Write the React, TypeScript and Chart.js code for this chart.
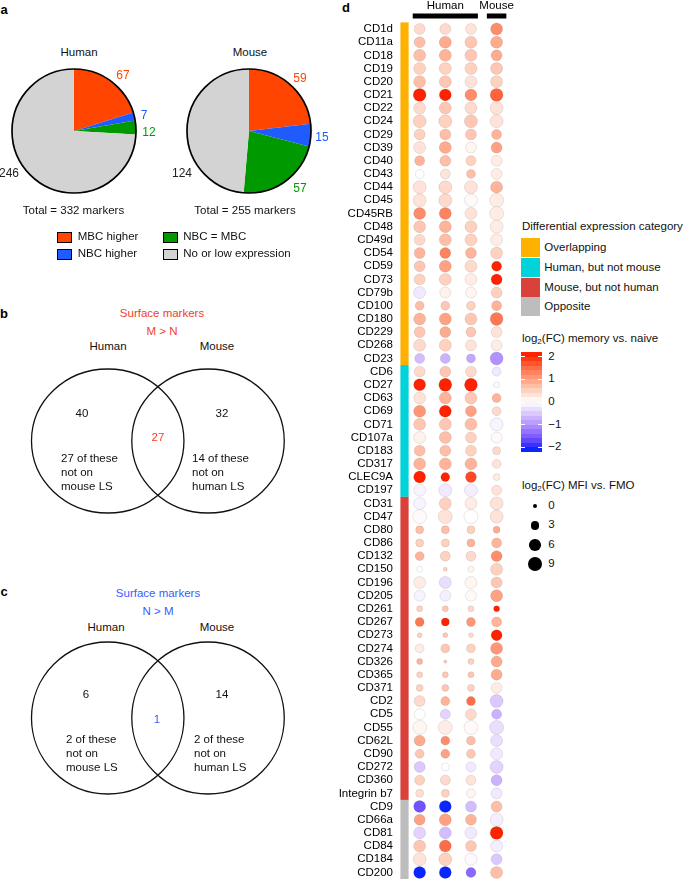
import React, { useEffect, useRef } from "react";
import { Chart, registerables } from "chart.js";
Chart.register(...registerables);

const FONT = '"Liberation Sans", Arial, Helvetica, sans-serif';

// ---------- Panel a ----------
const pieCategories = ["MBC higher", "NBC higher", "NBC = MBC", "No or low expression"];
const pieColors = ["#ff4500", "#1f5bff", "#009a00", "#d3d3d3"];
const humanPieCounts = [67, 7, 12, 246];
const mousePieCounts = [59, 15, 57, 124];
const humanTotal = 332;
const mouseTotal = 255;

// ---------- Panels b / c ----------
const vennSets = ["Human", "Mouse"];
const vennCentersX = [0, 1];
const vennUpCounts = [40, 27, 32]; // human only, shared, mouse only
const vennUpNotOnLS = [27, 14];
const vennDownCounts = [6, 1, 14];
const vennDownNotOnLS = [2, 2];

// ---------- Panel d ----------
const overlappingMarkers = ["CD1d", "CD11a", "CD18", "CD19", "CD20", "CD21", "CD22", "CD24", "CD29", "CD39", "CD40", "CD43", "CD44", "CD45", "CD45RB", "CD48", "CD49d", "CD54", "CD59", "CD73", "CD79b", "CD100", "CD180", "CD229", "CD268", "CD23"];
const humanOnlyMarkers = ["CD6", "CD27", "CD63", "CD69", "CD71", "CD107a", "CD183", "CD317", "CLEC9A", "CD197"];
const mouseOnlyMarkers = ["CD31", "CD47", "CD80", "CD86", "CD132", "CD150", "CD196", "CD205", "CD261", "CD267", "CD273", "CD274", "CD326", "CD365", "CD371", "CD2", "CD5", "CD55", "CD62L", "CD90", "CD272", "CD360", "Integrin b7"];
const oppositeMarkers = ["CD9", "CD66a", "CD81", "CD84", "CD184", "CD200"];

const columnSpecies = ["Human", "Human", "Human", "Mouse"];

// log2(FC) memory vs naive (colour)
const fcHuman1 = [0.4, 0.7, 0.7, 0.5, 0.7, 2.0, 0.4, 0.5, 0.5, 0.3, 0.8, 0.0, 0.3, 0.3, 1.2, 0.6, 0.4, 0.8, 0.6, 0.5, -0.2, 0.7, 0.8, 0.6, 0.4, -0.6,
  0.4, 2.0, 0.3, 1.1, 0.6, 0.15, 0.7, 0.8, 2.0, -0.1,
  -0.1, 0.05, 0.7, 0.5, 0.8, 0.0, 0.2, -0.1, 0.5, 1.4, 0.5, 0.2, 0.8, 0.5, 0.5, 0.4, 0.0, 0.1, 0.9, 0.6, -0.5, 0.5, 0.35,
  -1.6, 1.0, -0.4, 0.6, 0.3, -2.1];
const fcHuman2 = [0.4, 0.9, 0.8, 0.5, 0.6, 2.1, 0.6, 0.5, 0.7, 0.9, 0.7, 0.3, 0.4, 0.4, 1.3, 0.8, 0.7, 1.3, 1.0, 0.5, 0.15, 0.6, 1.0, 0.9, 0.5, -0.7,
  0.6, 2.1, 0.8, 2.1, 0.6, 0.7, 0.7, 0.8, 2.1, -0.2,
  0.5, 0.3, 0.7, 0.5, 0.5, 0.5, -0.3, -0.15, 0.6, 2.1, 0.6, 0.6, 0.6, 0.6, 0.6, 0.8, -0.4, 0.2, 1.2, 1.0, 0.0, 0.4, 0.5,
  -2.1, 1.0, -0.6, 1.5, 0.5, -2.2];
const fcHuman3 = [0.3, 0.6, 0.6, 0.5, 0.3, 1.2, 0.4, 0.6, 0.6, 0.1, 0.5, 0.7, 0.3, 0.05, 0.3, 0.5, 0.5, 0.8, 0.4, 0.2, 0.1, 0.5, 0.6, 0.6, 0.3, -0.8,
  0.4, 2.1, 0.6, 1.0, 0.7, 0.5, 0.5, 0.8, 1.8, -0.15,
  0.2, 0.0, 0.5, 0.8, 0.4, 0.1, 0.1, 0.05, 0.4, 1.1, 0.4, 0.5, 0.5, 0.6, 0.5, 1.5, 0.4, 0.05, 0.7, 0.6, -0.2, 0.3, 0.1,
  -0.6, 0.8, -0.2, 0.6, -0.05, -1.4];
const fcMouse = [1.2, 0.9, 0.9, 0.6, 0.5, 1.6, 0.3, 0.3, 0.8, 1.0, 0.2, 0.2, 0.8, 0.2, 0.2, 0.2, 0.2, 0.5, 2.0, 2.1, 0.5, 0.8, 1.4, 0.3, 0.2, -1.0,
  -0.2, -0.05, 0.8, 0.4, -0.1, 0.05, 0.4, 0.3, 0.2, 0.3,
  0.3, 0.3, 0.9, 0.8, 1.2, 0.5, 0.6, 1.0, 2.1, 0.8, 2.2, 1.1, 0.9, 0.9, 0.2, -0.5, -0.7, -0.3, -0.3, -0.2, -0.4, -0.7, -0.2,
  0.7, -0.15, 2.1, -0.15, -0.5, 0.7];

// log2(FC) MFI vs FMO (size)
const mfiHuman1 = [5.2, 5.2, 6.4, 6.4, 6.4, 7.6, 6.4, 7.6, 5.2, 6.4, 4.2, 3.2, 7.6, 7.6, 6.4, 6.4, 5.2, 5.2, 5.2, 5.2, 6.4, 3.2, 6.4, 5.2, 6.4, 4.2,
  5.2, 6.4, 6.4, 6.4, 6.4, 6.4, 5.2, 6.4, 6.4, 6.4,
  6.4, 9, 2.4, 2.4, 3.2, 1.0, 6.4, 5.2, 1.0, 3.2, 0.4, 3.2, 1.0, 1.0, 1.6, 5.2, 5.2, 9, 5.2, 3.2, 5.2, 4.2, 2.4,
  6.4, 5.2, 6.4, 6.4, 7.6, 6.4];
const mfiHuman2 = [5.2, 6.4, 6.4, 6.4, 6.4, 6.4, 6.4, 7.6, 5.2, 6.4, 5.2, 4.2, 7.6, 7.6, 6.4, 6.4, 6.4, 5.2, 6.4, 6.4, 5.2, 3.2, 6.4, 5.2, 6.4, 4.2,
  5.2, 7.6, 6.4, 6.4, 6.4, 6.4, 5.2, 6.4, 3.2, 7.6,
  6.4, 9, 2.4, 2.4, 4.2, 0, 6.4, 5.2, 1.0, 2.4, 0.4, 3.2, -0.3, 1.0, 1.6, 3.2, 4.2, 9, 3.2, 3.2, 2.4, 4.2, 2.4,
  6.4, 6.4, 6.4, 6.4, 7.6, 6.4];
const mfiHuman3 = [5.2, 6.4, 6.4, 6.4, 6.4, 6.4, 6.4, 7.6, 5.2, 5.2, 4.2, 3.2, 7.6, 7.6, 6.4, 6.4, 6.4, 5.2, 6.4, 6.4, 5.2, 3.2, 6.4, 4.2, 5.2, 3.2,
  5.2, 7.6, 6.4, 5.2, 6.4, 5.2, 5.2, 6.4, 5.2, 7.6,
  6.4, 9, 2.4, 2.4, 4.2, 1.0, 6.4, 5.2, 1.0, 3.2, 0.4, 3.2, 1.0, 1.0, 1.6, 3.2, 5.2, 9, 3.2, 3.2, 4.2, 4.2, 3.2,
  5.2, 5.2, 6.4, 5.2, 6.4, 4.2];
const mfiMouse = [6.4, 6.4, 5.2, 6.4, 6.4, 7.6, 7.6, 7.6, 4.2, 5.2, 5.2, 5.2, 6.4, 9, 9, 7.6, 6.4, 6.4, 4.2, 5.2, 5.2, 4.2, 7.6, 5.2, 5.2, 7.6,
  3.2, 1.0, 3.2, 3.2, 7.6, 5.2, 2.4, 3.2, 1.6, 4.2,
  7.6, 7.6, 1.6, 4.2, 5.2, 6.4, 5.2, 6.4, 1.0, 4.2, 5.2, 6.4, 5.2, 5.2, 5.2, 7.6, 4.2, 9, 6.4, 6.4, 7.6, 5.2, 5.2,
  5.2, 7.6, 7.6, 6.4, 5.2, 6.4];

const categoryNames = ["Overlapping", "Human, but not mouse", "Mouse, but not human", "Opposite"];
const categoryColors = ["#ffb100", "#00d3d9", "#d9423a", "#bdbdbd"];
const colorTicks = [2, 1, 0, -1, -2];
const sizeTicks = [0, 3, 6, 9];

const markerGroups = [overlappingMarkers, humanOnlyMarkers, mouseOnlyMarkers, oppositeMarkers];
const allMarkers = markerGroups.flat();
const fcColumns = [fcHuman1, fcHuman2, fcHuman3, fcMouse];
const mfiColumns = [mfiHuman1, mfiHuman2, mfiHuman3, mfiMouse];

// ---------- colour helpers ----------
function toLin(c: number) { c /= 255; return c <= 0.04045 ? c / 12.92 : Math.pow((c + 0.055) / 1.055, 2.4); }
function fromLin(v: number) { v = v <= 0.0031308 ? 12.92 * v : 1.055 * Math.pow(v, 1 / 2.4) - 0.055; return Math.round(Math.max(0, Math.min(1, v)) * 255); }
function rgbToLab(rgb: number[]) {
  const R = toLin(rgb[0]), G = toLin(rgb[1]), B = toLin(rgb[2]);
  const X = (R * 0.4124 + G * 0.3576 + B * 0.1805) / 0.95047;
  const Y = R * 0.2126 + G * 0.7152 + B * 0.0722;
  const Z = (R * 0.0193 + G * 0.1192 + B * 0.9505) / 1.08883;
  const f = (t: number) => (t > 0.008856 ? Math.cbrt(t) : 7.787 * t + 16 / 116);
  const fx = f(X), fy = f(Y), fz = f(Z);
  return [116 * fy - 16, 500 * (fx - fy), 200 * (fy - fz)];
}
function labToRgb(lab: number[]) {
  const fy = (lab[0] + 16) / 116, fx = fy + lab[1] / 500, fz = fy - lab[2] / 200;
  const inv = (t: number) => (t * t * t > 0.008856 ? t * t * t : (t - 16 / 116) / 7.787);
  const X = inv(fx) * 0.95047, Y = inv(fy), Z = inv(fz) * 1.08883;
  const R = X * 3.2406 + Y * -1.5372 + Z * -0.4986;
  const G = X * -0.9689 + Y * 1.8758 + Z * 0.0415;
  const B = X * 0.0557 + Y * -0.204 + Z * 1.057;
  return [fromLin(R), fromLin(G), fromLin(B)];
}
const LAB_WHITE = rgbToLab([255, 255, 255]);
const LAB_RED = rgbToLab([255, 34, 0]);
const LAB_BLUE = rgbToLab([10, 38, 255]);
function fcColor(v: number) {
  const t = Math.min(1, Math.abs(v) / 2);
  const end = v >= 0 ? LAB_RED : LAB_BLUE;
  const lab = LAB_WHITE.map((w, i) => w + (end[i] - w) * t);
  const c = labToRgb(lab);
  return `rgb(${c[0]},${c[1]},${c[2]})`;
}
function sizeRadius(v: number) {
  return Math.sqrt(Math.max(2.2, 4 + 5 * v));
}

// ---------- generic chart box ----------
function ChartBox(props: { left: number; top: number; width: number; height: number; make: () => any }) {
  const ref = useRef<HTMLCanvasElement>(null);
  useEffect(() => {
    const chart = new Chart(ref.current as HTMLCanvasElement, props.make());
    return () => chart.destroy();
  }, []);
  return (
    <div style={{ position: "absolute", left: props.left, top: props.top, width: props.width, height: props.height }}>
      <canvas ref={ref} />
    </div>
  );
}

type TProps = { x: number; y: number; children: React.ReactNode; align?: "left" | "center" | "right"; color?: string; size?: number; bold?: boolean };
function T({ x, y, children, align = "center", color = "#111", size = 11.5, bold = false }: TProps) {
  const tx = align === "center" ? "-50%" : align === "right" ? "-100%" : "0";
  return (
    <div style={{ position: "absolute", left: x, top: y, transform: `translate(${tx},-50%)`, whiteSpace: "nowrap", color, fontSize: size, fontWeight: bold ? 700 : 400, lineHeight: 1 }}>
      {children}
    </div>
  );
}

// ---------- pie ----------
const pieOutline = {
  id: "pieOutline",
  afterDatasetsDraw(chart: any) {
    const arcs = chart.getDatasetMeta(0).data;
    if (!arcs.length) return;
    const a: any = arcs[0];
    const ctx = chart.ctx;
    ctx.save();
    ctx.beginPath();
    ctx.arc(a.x, a.y, a.outerRadius, 0, Math.PI * 2);
    ctx.lineWidth = 1.7;
    ctx.strokeStyle = "#000";
    ctx.stroke();
    ctx.restore();
  },
};
function makePie(counts: number[]) {
  return () => ({
    type: "pie",
    data: { labels: pieCategories, datasets: [{ data: counts, backgroundColor: pieColors, borderWidth: 0 }] },
    options: {
      animation: false,
      responsive: true,
      maintainAspectRatio: false,
      events: [],
      layout: { padding: 1 },
      plugins: { legend: { display: false }, tooltip: { enabled: false } },
    },
    plugins: [pieOutline],
  });
}

// ---------- venn ----------
function makeVenn(rx: number, ry: number) {
  const plugin = {
    id: "venn",
    afterDatasetsDraw(chart: any) {
      const xs = chart.scales.x, ys = chart.scales.y, ctx = chart.ctx;
      ctx.save();
      ctx.lineWidth = 1.3;
      ctx.strokeStyle = "#111";
      vennCentersX.forEach((cx) => {
        const px = xs.getPixelForValue(cx), py = ys.getPixelForValue(0);
        const prx = Math.abs(xs.getPixelForValue(cx + rx) - px);
        const pry = Math.abs(ys.getPixelForValue(ry) - py);
        ctx.beginPath();
        ctx.ellipse(px, py, prx, pry, 0, 0, Math.PI * 2);
        ctx.stroke();
      });
      ctx.restore();
    },
  };
  return () => ({
    type: "scatter",
    data: { datasets: [{ data: vennCentersX.map((x) => ({ x, y: 0 })), pointRadius: 0 }] },
    options: {
      animation: false,
      responsive: true,
      maintainAspectRatio: false,
      events: [],
      layout: { padding: 0 },
      scales: {
        x: { type: "linear", min: -1.074, max: 1.917, display: false },
        y: { type: "linear", min: -0.8, max: 0.8, display: false },
      },
      plugins: { legend: { display: false }, tooltip: { enabled: false } },
    },
    plugins: [plugin],
  });
}

// ---------- bubble grid ----------
const panelDPlugin = {
  id: "panelD",
  beforeDatasetsDraw(chart: any) {
    const xs = chart.scales.x, ys = chart.scales.y, ctx = chart.ctx;
    const step = ys.getPixelForValue(1) - ys.getPixelForValue(0);
    ctx.save();
    let start = 0;
    markerGroups.forEach((g, gi) => {
      const end = start + g.length - 1;
      const y0 = ys.getPixelForValue(start) - step / 2;
      const y1 = ys.getPixelForValue(end) + step / 2;
      const x0 = xs.getPixelForValue(-0.75), x1 = xs.getPixelForValue(-0.43);
      ctx.fillStyle = categoryColors[gi];
      ctx.fillRect(x0, y0, x1 - x0, y1 - y0);
      start = end + 1;
    });
    ctx.fillStyle = "#000";
    ctx.font = `11.5px ${FONT}`;
    ctx.textAlign = "center";
    ctx.textBaseline = "middle";
    ["Human", "Mouse"].forEach((sp) => {
      const idx = columnSpecies.map((s, i) => (s === sp ? i : -1)).filter((i) => i >= 0);
      const lo = Math.min(...idx), hi = Math.max(...idx);
      const a = xs.getPixelForValue(lo - 0.27), b = xs.getPixelForValue(hi + 0.38 - (sp === "Human" ? 0.11 : 0));
      const a2 = sp === "Mouse" ? xs.getPixelForValue(lo - 0.38) : a;
      ctx.fillRect(a2, 13.5, b - a2, 5);
      ctx.fillText(sp, xs.getPixelForValue((lo + hi) / 2), 6);
    });
    ctx.restore();
  },
};
function makeBubbles() {
  return () => ({
    type: "bubble",
    data: {
      datasets: fcColumns.map((fc, j) => ({
        data: allMarkers.map((m, i) => ({ x: j, y: m, r: sizeRadius(mfiColumns[j][i]) })),
        backgroundColor: allMarkers.map((_, i) => fcColor(fc[i])),
        borderColor: "rgba(0,0,0,0.09)",
        borderWidth: 1,
        clip: false,
      })),
    },
    options: {
      animation: false,
      responsive: true,
      maintainAspectRatio: false,
      events: [],
      layout: { padding: { top: 22.4, bottom: 1.4, left: 0, right: 2.3 } },
      scales: {
        x: { type: "linear", min: -1.0, max: 3.6, display: false },
        y: {
          type: "category",
          labels: allMarkers,
          offset: true,
          grid: { display: false, drawTicks: false },
          border: { display: false },
          ticks: { autoSkip: false, color: "#000", font: { family: FONT, size: 11.5 }, padding: 1 },
          afterFit: (s: any) => { s.width = 64; },
        },
      },
      plugins: { legend: { display: false }, tooltip: { enabled: false } },
    },
    plugins: [panelDPlugin],
  });
}

function Log2({ text }: { text: string }) {
  return (
    <span>
      log<sub style={{ fontSize: 8, verticalAlign: "-2px" }}>2</sub>{text}
    </span>
  );
}

export default function App() {
  const legendA = [
    { x: 57, tx: 77.7, y: 237 },
    { x: 57, tx: 77.7, y: 254 },
    { x: 163, tx: 183.3, y: 237 },
    { x: 163, tx: 183.3, y: 254 },
  ];
  const swTops = [238.3, 258.3, 278.3, 297.3];
  const bandCount = 22;
  const cbTop = 352, cbBottom = 452, cbZero = 402, cbUnit = 22.7;
  return (
    <div style={{ position: "absolute", left: 0, top: 0, width: 685, height: 887, overflow: "hidden", background: "#fff", fontFamily: FONT }}>
      {/* panel letters */}
      <T x={4} y={8.5} bold size={13} color="#000">a</T>
      <T x={4} y={313} bold size={13} color="#000">b</T>
      <T x={4} y={590.5} bold size={13} color="#000">c</T>
      <T x={346} y={7} bold size={13} color="#000">d</T>

      {/* panel a */}
      <T x={79} y={53}>{vennSets[0]}</T>
      <T x={250} y={53}>{vennSets[1]}</T>
      <ChartBox left={11} top={68} width={126} height={126} make={makePie(humanPieCounts)} />
      <ChartBox left={186} top={68} width={126} height={126} make={makePie(mousePieCounts)} />
      <T x={123} y={75} color={pieColors[0]} size={12}>{humanPieCounts[0]}</T>
      <T x={144} y={115} color={pieColors[1]} size={12}>{humanPieCounts[1]}</T>
      <T x={149} y={132} color={pieColors[2]} size={12}>{humanPieCounts[2]}</T>
      <T x={9} y={173} color="#222" size={12}>{humanPieCounts[3]}</T>
      <T x={300} y={78} color={pieColors[0]} size={12}>{mousePieCounts[0]}</T>
      <T x={322} y={137} color={pieColors[1]} size={12}>{mousePieCounts[1]}</T>
      <T x={300} y={188} color={pieColors[2]} size={12}>{mousePieCounts[2]}</T>
      <T x={182} y={173} color="#222" size={12}>{mousePieCounts[3]}</T>
      <T x={73.5} y={211}>Total = {humanTotal} markers</T>
      <T x={245} y={211}>Total = {mouseTotal} markers</T>
      {pieCategories.map((c, i) => (
        <React.Fragment key={c}>
          <div style={{ position: "absolute", left: legendA[i].x, top: legendA[i].y - 5.5, width: 15, height: 11, boxSizing: "border-box", border: "1px solid #000", background: pieColors[i] }} />
          <T x={legendA[i].tx} y={legendA[i].y} align="left">{c}</T>
        </React.Fragment>
      ))}

      {/* panel b */}
      <T x={162} y={314} color="#f23d2a">Surface markers</T>
      <T x={162} y={332} color="#f23d2a">M &gt; N</T>
      <T x={108} y={347}>{vennSets[0]}</T>
      <T x={217} y={347}>{vennSets[1]}</T>
      <ChartBox left={0} top={361} width={300} height={160} make={makeVenn(0.76, 0.72)} />
      <T x={82} y={414}>{vennUpCounts[0]}</T>
      <T x={158} y={438} color="#f23d2a">{vennUpCounts[1]}</T>
      <T x={222} y={414}>{vennUpCounts[2]}</T>
      <div style={{ position: "absolute", left: 61, top: 451, fontSize: 11.5, lineHeight: "14px", color: "#111" }}>
        {vennUpNotOnLS[0]} of these<br />not on<br />mouse LS
      </div>
      <div style={{ position: "absolute", left: 192, top: 451, fontSize: 11.5, lineHeight: "14px", color: "#111" }}>
        {vennUpNotOnLS[1]} of these<br />not on<br />human LS
      </div>

      {/* panel c */}
      <T x={158} y={594} color="#3a5bff">Surface markers</T>
      <T x={158} y={612} color="#3a5bff">N &gt; M</T>
      <T x={106} y={628}>{vennSets[0]}</T>
      <T x={217} y={628}>{vennSets[1]}</T>
      <ChartBox left={0} top={638} width={300} height={160} make={makeVenn(0.76, 0.76)} />
      <T x={86} y={695}>{vennDownCounts[0]}</T>
      <T x={157} y={720} color="#3a5bff">{vennDownCounts[1]}</T>
      <T x={222} y={695}>{vennDownCounts[2]}</T>
      <div style={{ position: "absolute", left: 66, top: 732, fontSize: 11.5, lineHeight: "14px", color: "#111" }}>
        {vennDownNotOnLS[0]} of these<br />not on<br />mouse LS
      </div>
      <div style={{ position: "absolute", left: 194, top: 732, fontSize: 11.5, lineHeight: "14px", color: "#111" }}>
        {vennDownNotOnLS[1]} of these<br />not on<br />human LS
      </div>

      {/* panel d */}
      <ChartBox left={330} top={0} width={190} height={887} make={makeBubbles()} />

      <T x={522} y={227} align="left">Differential expression category</T>
      {categoryNames.map((n, i) => (
        <React.Fragment key={n}>
          <div style={{ position: "absolute", left: 521, top: swTops[i], width: 18.5, height: 18.5, background: categoryColors[i] }} />
          <T x={544.3} y={swTops[i] + 9.2} align="left">{n}</T>
        </React.Fragment>
      ))}

      <T x={522} y={338.5} align="left"><Log2 text="(FC) memory vs. naive" /></T>
      <div style={{ position: "absolute", left: 521, top: cbTop, width: 21, height: cbBottom - cbTop }}>
        {Array.from({ length: bandCount }).map((_, k) => {
          const h = (cbBottom - cbTop) / bandCount;
          const v = (cbZero - (cbTop + (k + 0.5) * h)) / cbUnit;
          return <div key={k} style={{ position: "absolute", left: 0, top: k * h, width: 21, height: h + 0.5, background: fcColor(v) }} />;
        })}
        {colorTicks.map((t) => (
          <React.Fragment key={t}>
            <div style={{ position: "absolute", left: 0, top: cbZero - t * cbUnit - cbTop - 0.5, width: 4, height: 1, background: "#fff" }} />
            <div style={{ position: "absolute", left: 17, top: cbZero - t * cbUnit - cbTop - 0.5, width: 4, height: 1, background: "#fff" }} />
          </React.Fragment>
        ))}
      </div>
      {colorTicks.map((t) => (
        <T key={t} x={548.3} y={cbZero - t * cbUnit} align="left">{t < 0 ? `\u2212${-t}` : `${t}`}</T>
      ))}

      <T x={522} y={485.7} align="left"><Log2 text="(FC) MFI vs. FMO" /></T>
      {sizeTicks.map((s, i) => {
        const r = sizeRadius(s);
        const cy = 506 + i * 19.43;
        return (
          <React.Fragment key={s}>
            <div style={{ position: "absolute", left: 535 - r, top: cy - r, width: 2 * r, height: 2 * r, borderRadius: "50%", background: "#000" }} />
            <T x={548.3} y={cy} align="left">{s}</T>
          </React.Fragment>
        );
      })}
    </div>
  );
}
